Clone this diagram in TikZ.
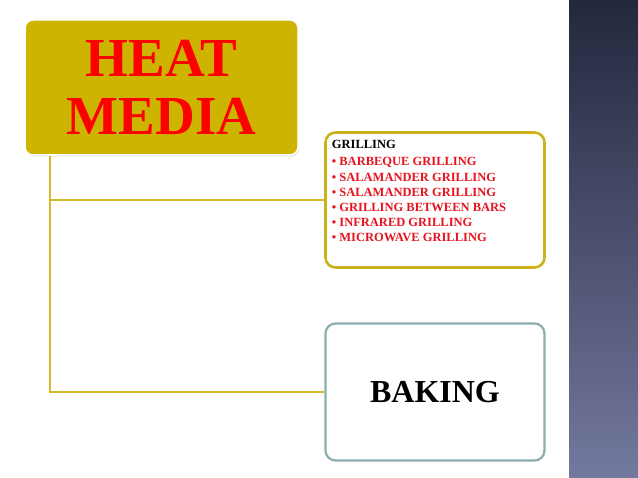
\documentclass[tikz,border=0pt]{standalone}
\usepackage{fontspec}
\setmainfont{Liberation Serif}
\usepackage{tikz}
\usetikzlibrary{shadows}

\definecolor{heatfill}{RGB}{204,180,0}
\definecolor{grillline}{RGB}{201,178,30}
\definecolor{bakeline}{RGB}{143,173,175}
\definecolor{linkline}{RGB}{212,186,42}
\definecolor{itemred}{RGB}{230,20,30}
\definecolor{bartop}{RGB}{35,40,62}
\definecolor{barbottom}{RGB}{115,120,158}

\begin{document}
\begin{tikzpicture}[x=1pt,y=-1pt,
    heatbox/.style={rectangle,rounded corners=8pt,fill=heatfill,draw=white,line width=1.5pt,
      drop shadow={opacity=0.25,shadow xshift=1pt,shadow yshift=-1.5pt},
      minimum width=273pt,minimum height=135pt,align=center,text=red,
      font=\bfseries\fontsize{55}{58}\selectfont},
    grillbox/.style={rectangle,rounded corners=10pt,draw=grillline,line width=2.6pt,fill=white,
      minimum width=219pt,minimum height=135pt},
    bakebox/.style={rectangle,rounded corners=10pt,draw=bakeline,line width=2.2pt,fill=white,
      minimum width=219pt,minimum height=137pt,font=\bfseries\fontsize{32}{36}\selectfont},
    link/.style={draw=linkline,line width=2.4pt}]
          \useasboundingbox (0,0) rectangle (638,478);
          \fill[white] (0,0) rectangle (638,478);
          % side bar
          \shade[top color=bartop,bottom color=barbottom] (569,0) rectangle (638,478);
          % Heat media
          \node[heatbox] (heat) at (161.5,87.5) {HEAT\\MEDIA};
          \coordinate (trunk) at ([xshift=26pt]heat.south west);
          % Grilling
          \node[grillbox] (grill) at (435,200) {};
          \node[anchor=north west,inner sep=0pt,align=left,font=\bfseries\fontsize{12.5}{15.2}\selectfont]
            (grilltext) at ([xshift=7.5pt,yshift=-8.5pt]grill.north west)
            {GRILLING\\[2.5pt]
             \textcolor{itemred}{• BARBEQUE GRILLING}\\
             \textcolor{itemred}{• SALAMANDER GRILLING}\\
             \textcolor{itemred}{• SALAMANDER GRILLING}\\
             \textcolor{itemred}{• GRILLING BETWEEN BARS}\\
             \textcolor{itemred}{• INFRARED GRILLING}\\
             \textcolor{itemred}{• MICROWAVE GRILLING}};
          % Baking
          \node[bakebox] (bake) at (435,392) {BAKING};
          % lines from heat media
          \draw[link] (trunk) |- (grill.west);
          \draw[link] (trunk) |- (bake.west);
\end{tikzpicture}
\end{document}
